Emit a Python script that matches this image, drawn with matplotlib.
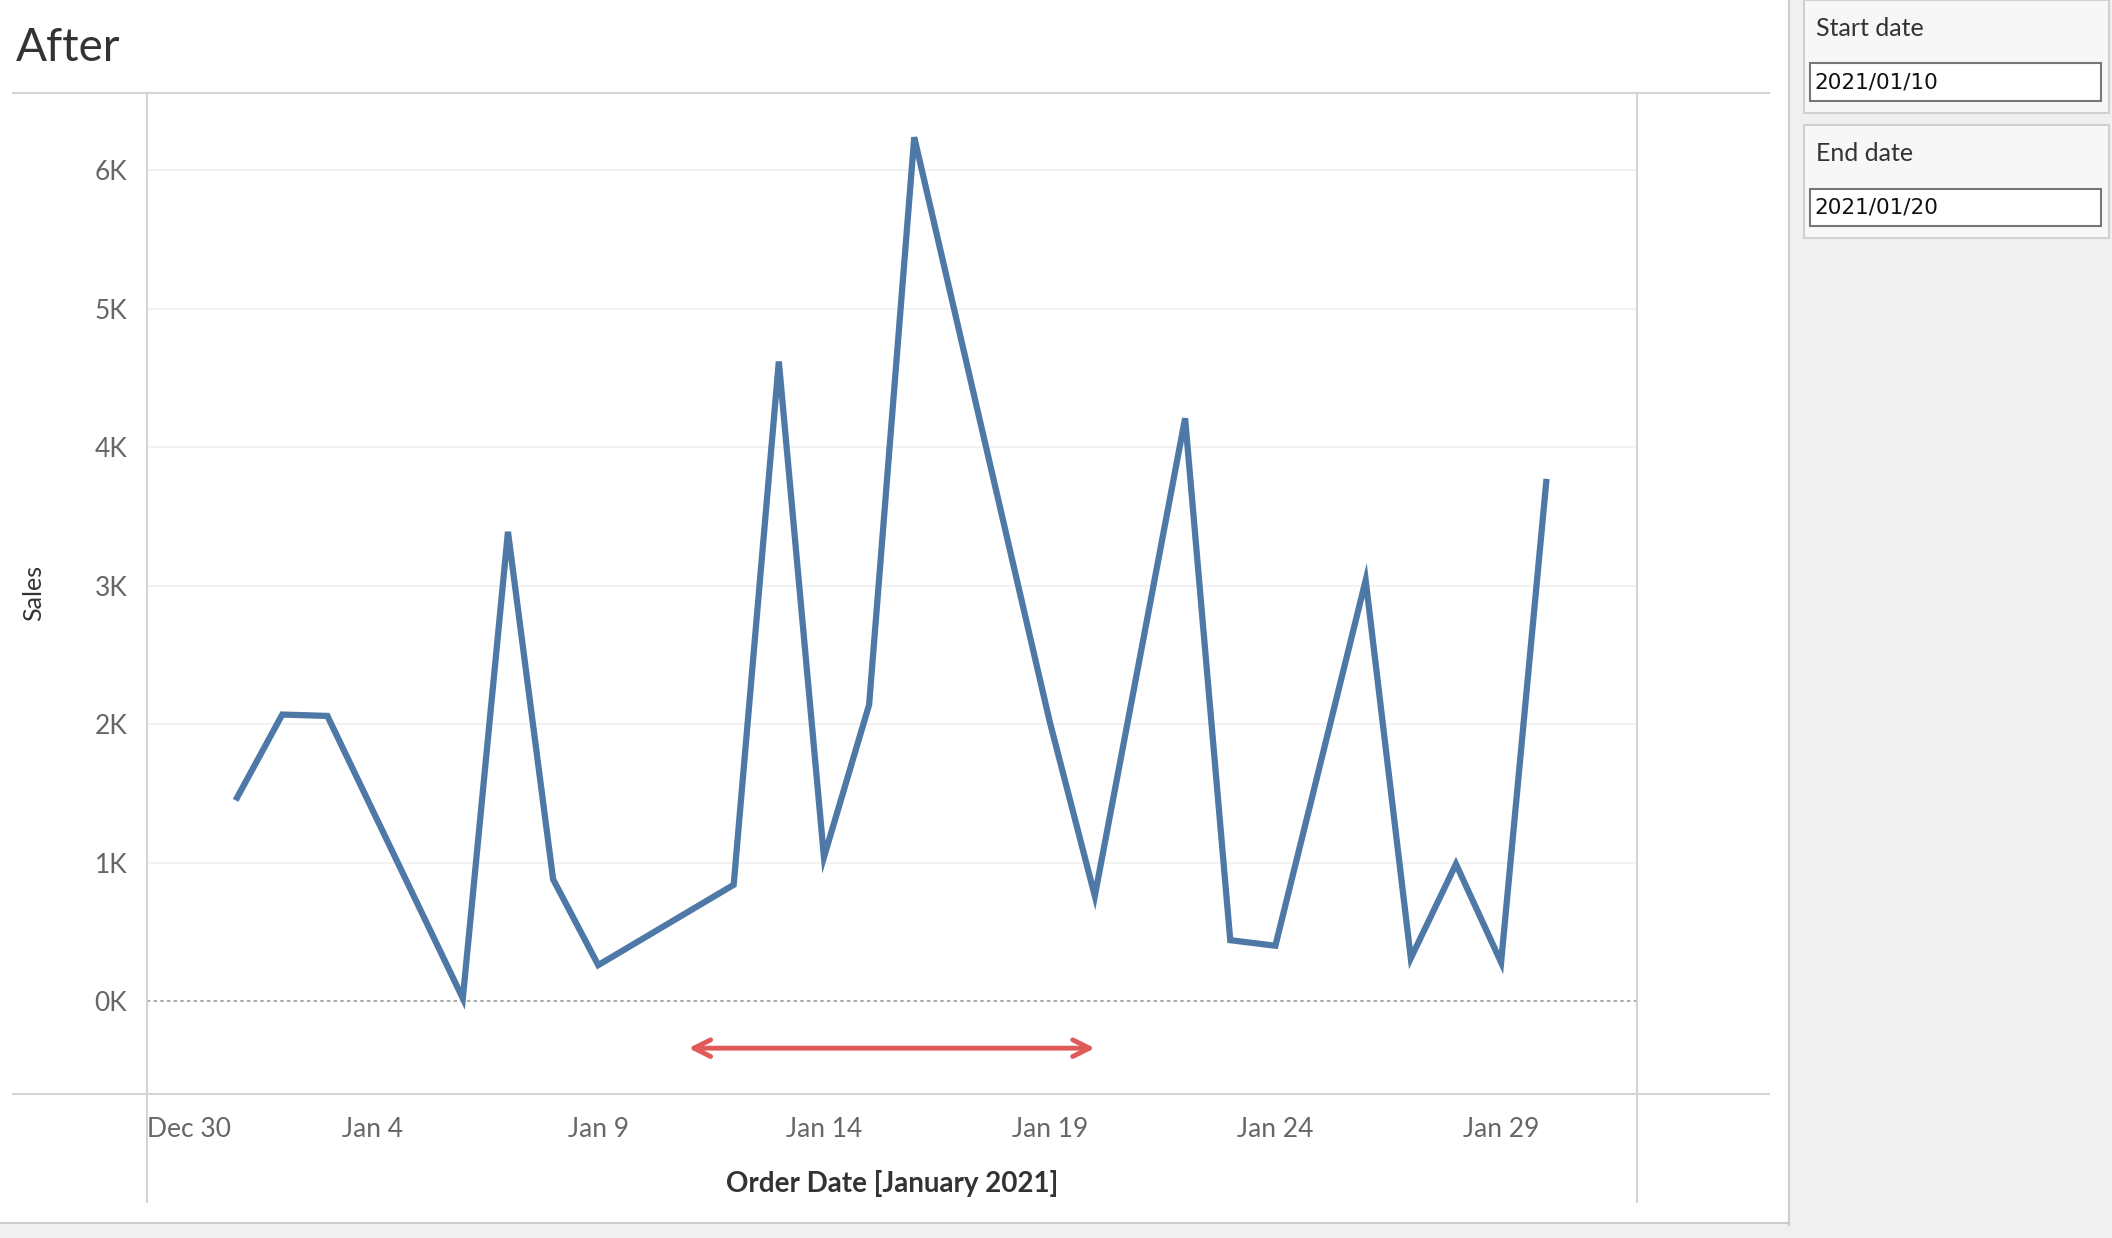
import matplotlib
matplotlib.use("Agg")
import matplotlib.pyplot as plt
from matplotlib.lines import Line2D
from matplotlib.patches import Rectangle
import datetime as dt

plt.rcParams['font.family'] = ['Lato', 'DejaVu Sans']

# ---------------------------------------------------------------------------
# Data (daily sales, January 2021)
# ---------------------------------------------------------------------------
days = [1, 2, 3, 6, 7, 8, 9, 12, 13, 14, 15, 16, 19, 20, 22, 23, 24, 26, 27, 28, 29, 30]
sales = [1.47, 2.07, 2.06, 0.02, 3.39, 0.88, 0.26, 0.84, 4.62, 1.04, 2.14, 6.24,
         2.02, 0.76, 4.21, 0.44, 0.40, 3.04, 0.31, 0.99, 0.28, 3.75]
sales = [v * 1000 for v in sales]
dates = [dt.date(2021, 1, d) for d in days]

tick_dates = [dt.date(2020, 12, 30), dt.date(2021, 1, 4), dt.date(2021, 1, 9),
              dt.date(2021, 1, 14), dt.date(2021, 1, 19), dt.date(2021, 1, 24),
              dt.date(2021, 1, 29)]
tick_labels = ['Dec 30', 'Jan 4', 'Jan 9', 'Jan 14', 'Jan 19', 'Jan 24', 'Jan 29']
y_ticks = [0, 1000, 2000, 3000, 4000, 5000, 6000]
y_labels = ['0K', '1K', '2K', '3K', '4K', '5K', '6K']

W, H = 1568, 919   # layout measured in reference pixels


def fx(x):
    return x / W


def fy(y):
    return 1 - y / H


fig = plt.figure(figsize=(21.12, 12.38), dpi=100)
ax = fig.add_axes([fx(109), fy(812), fx(1215 - 109), (812 - 69) / H])

ax.plot(dates, sales, color='#4e79a7', lw=4.5, solid_joinstyle='miter')
ax.set_xlim(dt.date(2020, 12, 30), dt.date(2021, 2, 1) + dt.timedelta(hours=3))
ax.set_ylim(-670, 6560)
ax.set_xticks(tick_dates)
ax.set_xticklabels(tick_labels)
ax.set_yticks(y_ticks)
ax.set_yticklabels(y_labels)
ax.tick_params(axis='both', length=0, labelsize=19, labelcolor='#666666')
ax.tick_params(axis='x', pad=17)
ax.tick_params(axis='y', pad=14)
for lbl in ax.get_xticklabels():
    lbl.set_horizontalalignment('left' if lbl.get_text() == 'Dec 30' else 'center')
for y in y_ticks[1:]:
    ax.axhline(y, color='#f0f0f0', lw=1.2, zorder=0)
ax.axhline(0, color='#999999', lw=1.2, ls=(0, (2, 2)), zorder=0)
for s in ax.spines.values():
    s.set_visible(False)
ax.set_ylabel('Sales', fontsize=18, color='#333333')
ax.yaxis.set_label_coords(-0.068, 0.5)
ax.set_xlabel('Order Date [January 2021]', fontsize=20, fontweight='bold',
              color='#333333', labelpad=20)

# red range arrow
ax.annotate('', xy=(dt.date(2021, 1, 11) + dt.timedelta(hours=19), -340),
            xytext=(dt.date(2021, 1, 20) + dt.timedelta(hours=6), -340),
            arrowprops=dict(arrowstyle='<->', color='#e05a5a', lw=3.5,
                            mutation_scale=30, shrinkA=0, shrinkB=0))

# frame lines
def hline(y, x0, x1, c='#d4d4d4', lw=1.5):
    fig.add_artist(Line2D([fx(x0), fx(x1)], [fy(y), fy(y)], color=c, lw=lw))


def vline(x, y0, y1, c='#d4d4d4', lw=1.5):
    fig.add_artist(Line2D([fx(x), fx(x)], [fy(y0), fy(y1)], color=c, lw=lw))


hline(69, 10, 1313)
hline(812, 10, 1313)
vline(109, 69, 892)
vline(1215, 69, 892)

fig.text(fx(12), fy(36), 'After', fontsize=33, color='#333333', va='center')

# right side panel and bottom strip
fig.add_artist(Rectangle((fx(1328), 0), 1 - fx(1328), 1, color='#f0f0f0', zorder=-1))
vline(1328, 0, 909, c='#cccccc')
fig.add_artist(Rectangle((0, 0), fx(1328), (H - 908) / H, color='#f0f0f0', zorder=-1))
hline(908, 0, 1328, c='#cccccc')

for top, label, value in [(0, 'Start date', '2021/01/10'), (93, 'End date', '2021/01/20')]:
    fig.add_artist(Rectangle((fx(1339), fy(top + 84)), fx(1566 - 1339), 84 / H,
                             facecolor='#f7f7f7', edgecolor='#d0d0d0', lw=1.5))
    fig.add_artist(Rectangle((fx(1344), fy(top + 75)), fx(1560 - 1344), 28 / H,
                             facecolor='white', edgecolor='#777777', lw=1.5))
    fig.text(fx(1348), fy(top + 21), label, fontsize=18, color='#333333', va='center')
    fig.text(fx(1347), fy(top + 61), value, fontsize=15.5, color='#111111', va='center',
             family='DejaVu Sans')

fig.savefig('out.png', dpi=100, facecolor='white')
